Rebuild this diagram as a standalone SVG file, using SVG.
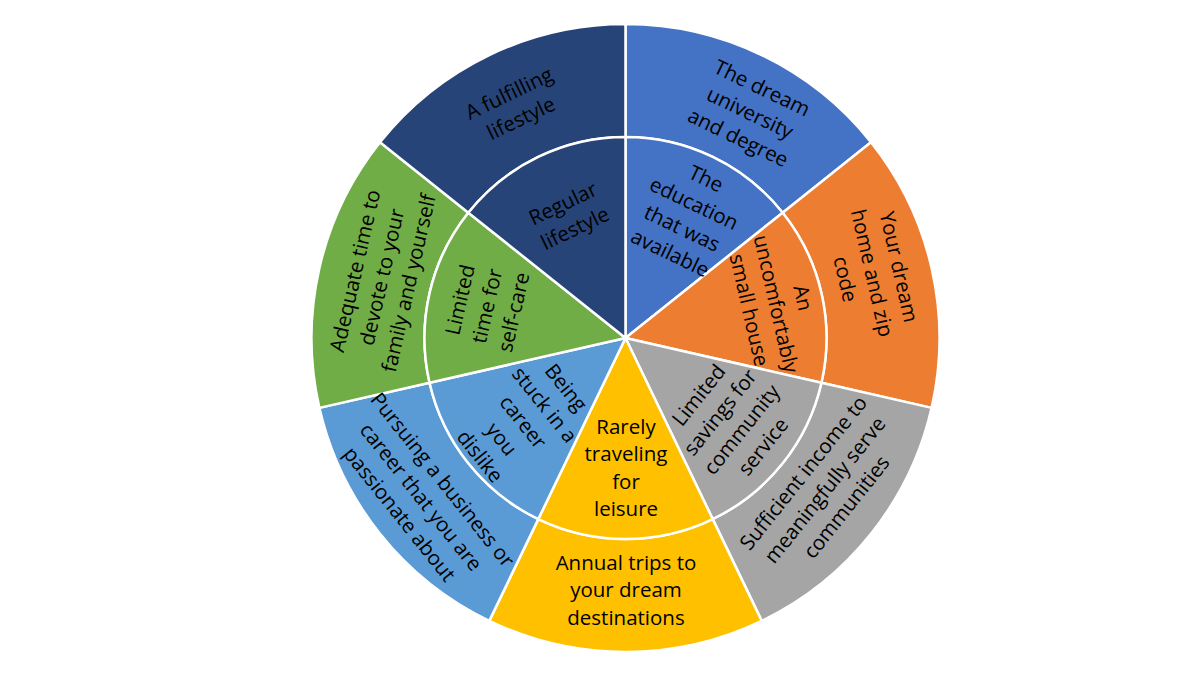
<svg xmlns="http://www.w3.org/2000/svg" width="1200" height="675" viewBox="0 0 1200 675">
<style>
.w{stroke:#fff;stroke-width:2.5;stroke-linejoin:round}
.t{font-family:"Open Sans","Liberation Sans",sans-serif;font-size:20.5px;fill:#000;text-anchor:middle}
</style>
<rect width="1200" height="675" fill="#fff"/>
<g id="wedges">
<g id="education">
<path class="w" fill="#4472C4" d="M625.5,137 L625.5,24 A314,314 0 0 1 870.99,142.22 L782.65,212.68 A201,201 0 0 0 625.5,137 Z"/>
<path class="w" fill="#4472C4" d="M625.5,338 L625.5,137 A201,201 0 0 1 782.65,212.68 Z"/>
</g>
<g id="home">
<path class="w" fill="#ED7D31" d="M782.65,212.68 L870.99,142.22 A314,314 0 0 1 931.63,407.87 L821.46,382.73 A201,201 0 0 0 782.65,212.68 Z"/>
<path class="w" fill="#ED7D31" d="M625.5,338 L782.65,212.68 A201,201 0 0 1 821.46,382.73 Z"/>
</g>
<g id="community">
<path class="w" fill="#A5A5A5" d="M821.46,382.73 L931.63,407.87 A314,314 0 0 1 761.74,620.9 L712.71,519.09 A201,201 0 0 0 821.46,382.73 Z"/>
<path class="w" fill="#A5A5A5" d="M625.5,338 L821.46,382.73 A201,201 0 0 1 712.71,519.09 Z"/>
</g>
<g id="travel">
<path class="w" fill="#FFC000" d="M712.71,519.09 L761.74,620.9 A314,314 0 0 1 489.26,620.9 L538.29,519.09 A201,201 0 0 0 712.71,519.09 Z"/>
<path class="w" fill="#FFC000" d="M625.5,338 L712.71,519.09 A201,201 0 0 1 538.29,519.09 Z"/>
</g>
<g id="career">
<path class="w" fill="#5B9BD5" d="M538.29,519.09 L489.26,620.9 A314,314 0 0 1 319.37,407.87 L429.54,382.73 A201,201 0 0 0 538.29,519.09 Z"/>
<path class="w" fill="#5B9BD5" d="M625.5,338 L538.29,519.09 A201,201 0 0 1 429.54,382.73 Z"/>
</g>
<g id="selfcare">
<path class="w" fill="#70AD47" d="M429.54,382.73 L319.37,407.87 A314,314 0 0 1 380.01,142.22 L468.35,212.68 A201,201 0 0 0 429.54,382.73 Z"/>
<path class="w" fill="#70AD47" d="M625.5,338 L429.54,382.73 A201,201 0 0 1 468.35,212.68 Z"/>
</g>
<g id="lifestyle">
<path class="w" fill="#264478" d="M468.35,212.68 L380.01,142.22 A314,314 0 0 1 625.5,24 L625.5,137 A201,201 0 0 0 468.35,212.68 Z"/>
<path class="w" fill="#264478" d="M625.5,338 L468.35,212.68 A201,201 0 0 1 625.5,137 Z"/>
</g>
</g>
<g id="labels">
<g id="lbl-lifestyle-out" transform="translate(515,106) rotate(-25.714)"><text class="t"><tspan x="0" y="-6.75">A fulfilling</tspan><tspan x="0" y="20.75">lifestyle</tspan></text></g>
<g id="lbl-lifestyle-in" transform="translate(569,216) rotate(-25.714)"><text class="t"><tspan x="0" y="-6.75">Regular</tspan><tspan x="0" y="20.75">lifestyle</tspan></text></g>
<g id="lbl-education-out" transform="translate(750,113) rotate(25.714)"><text class="t"><tspan x="0" y="-20.5">The dream</tspan><tspan x="0" y="7">university</tspan><tspan x="0" y="34.5">and degree</tspan></text></g>
<g id="lbl-education-in" transform="translate(688,216) rotate(25.714)"><text class="t"><tspan x="0" y="-34.25">The</tspan><tspan x="0" y="-6.75">education</tspan><tspan x="0" y="20.75">that was</tspan><tspan x="0" y="48.25">available</tspan></text></g>
<g id="lbl-home-out" transform="translate(872,273) rotate(77.143)"><text class="t"><tspan x="0" y="-20.5">Your dream</tspan><tspan x="0" y="7">home and zip</tspan><tspan x="0" y="34.5">code</tspan></text></g>
<g id="lbl-home-in" transform="translate(776,304) rotate(77.143)"><text class="t"><tspan x="0" y="-20.5">An</tspan><tspan x="0" y="7">uncomfortably</tspan><tspan x="0" y="34.5">small house</tspan></text></g>
<g id="lbl-community-in" transform="translate(731,421) rotate(-51.429)"><text class="t"><tspan x="0" y="-34.25">Limited</tspan><tspan x="0" y="-6.75">savings for</tspan><tspan x="0" y="20.75">community</tspan><tspan x="0" y="48.25">service</tspan></text></g>
<g id="lbl-community-out" transform="translate(825,490) rotate(-51.429)"><text class="t"><tspan x="0" y="-20.5">Sufficient income to</tspan><tspan x="0" y="7">meaningfully serve</tspan><tspan x="0" y="34.5">communities</tspan></text></g>
<g id="lbl-travel-in" transform="translate(626,468)"><text class="t"><tspan x="0" y="-34.25">Rarely</tspan><tspan x="0" y="-6.75">traveling</tspan><tspan x="0" y="20.75">for</tspan><tspan x="0" y="48.25">leisure</tspan></text></g>
<g id="lbl-travel-out" transform="translate(626,590)"><text class="t"><tspan x="0" y="-20.5">Annual trips to</tspan><tspan x="0" y="7">your dream</tspan><tspan x="0" y="34.5">destinations</tspan></text></g>
<g id="lbl-career-in" transform="translate(523,422) rotate(51.429)"><text class="t"><tspan x="0" y="-48">Being</tspan><tspan x="0" y="-20.5">stuck in a</tspan><tspan x="0" y="7">career</tspan><tspan x="0" y="34.5">you</tspan><tspan x="0" y="62">dislike</tspan></text></g>
<g id="lbl-career-out" transform="translate(421,497) rotate(51.429)"><text class="t"><tspan x="0" y="-20.5">Pursuing a business or</tspan><tspan x="0" y="7">career that you are</tspan><tspan x="0" y="34.5">passionate about</tspan></text></g>
<g id="lbl-selfcare-in" transform="translate(487,306) rotate(-77.143)"><text class="t"><tspan x="0" y="-20.5">Limited</tspan><tspan x="0" y="7">time for</tspan><tspan x="0" y="34.5">self-care</tspan></text></g>
<g id="lbl-selfcare-out" transform="translate(382,277) rotate(-77.143)"><text class="t"><tspan x="0" y="-20.5">Adequate time to</tspan><tspan x="0" y="7">devote to your</tspan><tspan x="0" y="34.5">family and yourself</tspan></text></g>
</g>
</svg>
